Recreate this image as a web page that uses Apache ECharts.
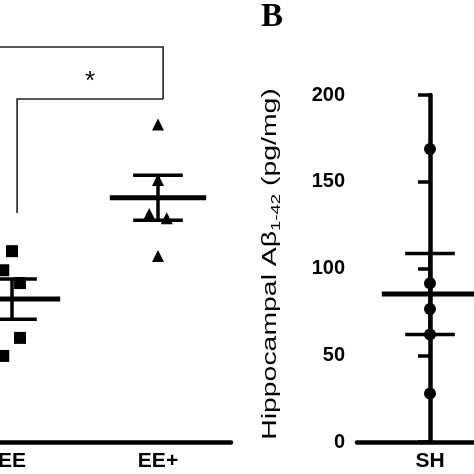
<!DOCTYPE html>
<html lang="en">
<head>
    <meta charset="UTF-8">
    <title>Hippocampal Aβ1-42</title>
    <script src="https://cdn.jsdelivr.net/npm/echarts@6/dist/echarts.min.js"></script>
    <style>
        html, body { margin: 0; padding: 0; background: #fff; }
        #chart { width: 474px; height: 474px; }
    </style>
</head>
<body>
    <div id="chart"></div>
    <script>
        // panel A (partly cut off on the left) and panel B
        const catsA = ['EE', 'EE+'];
        const catsB = ['SH'];

        // individual animals (pg/mg)
        const eeVals = [110, 99, 91.6, 60, 49.6];
        const eeJitter = [0, -0.06, 0.055, 0.055, -0.06];
        const eePlusVals = [183, 151, 131.4, 129, 107.2];
        const eePlusJitter = [0, 0, -0.06, 0.06, 0];
        const shVals = [168.9, 91.5, 76.6, 62, 28];
        const shJitter = [0, 0, 0, 0, 0];

        // mean and SEM bars
        const meansA = [82.4, 140.8];
        const semsA = [11.6, 13];
        const meansB = [85.3];
        const semsB = [23.4];

        // y axis
        const yMin = 0;
        const yMax = 200;
        const yStep = 50;

        // significance brackets in panel A: [from, to, top, left leg end, right leg end]
        const bracketFrom = [-0.965, 0.035];
        const bracketTo = [1.035, 1.035];
        const bracketTop = [227.7, 197.7];
        const bracketLeftEnd = [227.7, 132];
        const bracketRightEnd = [197.7, 197.7];
        const bracketText = ['', '*'];
        const bracketTextY = [0, 207.5];

        const FONT = '"Liberation Sans", Arial, sans-serif';

        function pts(vals, jit, idx) {
            return vals.map((v, i) => [idx + jit[i], v]);
        }

        function meanSemItem(params, api) {
            const x = api.value(0), m = api.value(1), s = api.value(2);
            const c = api.coord([x, m]);
            const hi = api.coord([x, m + s]);
            const lo = api.coord([x, m - s]);
            const halfMean = api.size([0.33, 0])[0];
            const halfCap = api.size([0.17, 0])[0];
            const thin = { stroke: '#000', lineWidth: 3.5 };
            return {
                type: 'group',
                children: [
                    { type: 'line', shape: { x1: c[0] - halfMean, y1: c[1], x2: c[0] + halfMean, y2: c[1] }, style: { stroke: '#000', lineWidth: 5 } },
                    { type: 'line', shape: { x1: lo[0], y1: lo[1], x2: hi[0], y2: hi[1] }, style: thin },
                    { type: 'line', shape: { x1: hi[0] - halfCap, y1: hi[1], x2: hi[0] + halfCap, y2: hi[1] }, style: thin },
                    { type: 'line', shape: { x1: lo[0] - halfCap, y1: lo[1], x2: lo[0] + halfCap, y2: lo[1] }, style: thin }
                ]
            };
        }

        function bracketItem(params, api) {
            const i = params.dataIndex;
            const x1 = api.value(0), x2 = api.value(1), top = api.value(2);
            const a = api.coord([x1, api.value(3)]);
            const b = api.coord([x1, top]);
            const c = api.coord([x2, top]);
            const d = api.coord([x2, api.value(4)]);
            const children = [{
                type: 'polyline',
                shape: { points: [a, b, c, d] },
                style: { stroke: '#222', lineWidth: 1.6, fill: null }
            }];
            if (bracketText[i]) {
                const t = api.coord([(x1 + x2) / 2, bracketTextY[i]]);
                children.push({
                    type: 'text', x: t[0], y: t[1],
                    style: { text: bracketText[i], fontSize: 26, fontFamily: FONT, fill: '#000', align: 'center', verticalAlign: 'middle' }
                });
            }
            return { type: 'group', children: children };
        }

        const chart = echarts.init(document.getElementById('chart'));

        const catAxis = (grid, data) => ({
            type: 'category', gridIndex: grid, data: data,
            axisLine: { show: true, lineStyle: { color: '#000', width: 4.5 } },
            axisTick: { show: false },
            axisLabel: { color: '#000', fontSize: 21, fontWeight: 'bold', fontFamily: FONT, margin: 9 }
        });

        const dot = { color: '#000', opacity: 1 };

        chart.setOption({
            animation: false,
            backgroundColor: '#fff',
            grid: [
                { left: -61, width: 292, top: 95, bottom: 32, outerBoundsMode: 'none', containLabel: false },
                { left: 357, width: 146, top: 95, bottom: 32, outerBoundsMode: 'none', containLabel: false }
            ],
            xAxis: [
                catAxis(0, catsA),
                { type: 'value', gridIndex: 0, min: -0.5, max: catsA.length - 0.5, show: false },
                catAxis(1, catsB),
                { type: 'value', gridIndex: 1, min: -0.5, max: catsB.length - 0.5, show: false }
            ],
            yAxis: [
                { type: 'value', gridIndex: 0, min: yMin, max: yMax, interval: yStep, show: false },
                {
                    type: 'value', gridIndex: 1, min: yMin, max: yMax, interval: yStep,
                    axisLine: { show: true, lineStyle: { color: '#000', width: 4.5 } },
                    axisTick: { show: true, length: 12, lineStyle: { color: '#000', width: 3.5 } },
                    axisLabel: { color: '#000', fontSize: 20, fontWeight: 'bold', fontFamily: FONT, margin: 12 },
                    splitLine: { show: false }
                }
            ],
            graphic: [
                {
                    type: 'text', x: 272, y: 17,
                    style: { text: 'B', fontSize: 33, fontWeight: 'bold', fontFamily: '"Liberation Serif", "Times New Roman", serif', fill: '#000', align: 'center', verticalAlign: 'middle' }
                },
                {
                    type: 'text', x: 270, y: 264, rotation: Math.PI / 2, scaleX: 1.42,
                    style: {
                        text: 'Hippocampal Aβ{sub|1-42} (pg/mg)',
                        fontSize: 20, fontFamily: FONT, fill: '#000', lineHeight: 26,
                        align: 'center', verticalAlign: 'middle',
                        rich: { sub: { fontSize: 13, fontFamily: FONT, fill: '#000', verticalAlign: 'bottom', lineHeight: 13 } }
                    }
                }
            ],
            series: [
                {
                    type: 'custom', xAxisIndex: 1, yAxisIndex: 0, clip: false,
                    renderItem: bracketItem,
                    data: bracketFrom.map((f, i) => [f, bracketTo[i], bracketTop[i], bracketLeftEnd[i], bracketRightEnd[i]])
                },
                {
                    type: 'scatter', xAxisIndex: 1, yAxisIndex: 0, symbol: 'rect', symbolSize: 12,
                    itemStyle: dot, data: pts(eeVals, eeJitter, 0)
                },
                {
                    type: 'scatter', xAxisIndex: 1, yAxisIndex: 0, symbol: 'triangle', symbolSize: [12, 12],
                    itemStyle: dot, data: pts(eePlusVals, eePlusJitter, 1)
                },
                {
                    type: 'custom', xAxisIndex: 1, yAxisIndex: 0, clip: false,
                    renderItem: meanSemItem,
                    data: meansA.map((m, i) => [i, m, semsA[i]])
                },
                {
                    type: 'scatter', xAxisIndex: 3, yAxisIndex: 1, symbol: 'circle', symbolSize: [12, 12],
                    itemStyle: dot, data: pts(shVals, shJitter, 0)
                },
                {
                    type: 'custom', xAxisIndex: 3, yAxisIndex: 1, clip: false,
                    renderItem: meanSemItem,
                    data: meansB.map((m, i) => [i, m, semsB[i]])
                }
            ]
        });
    </script>
</body>
</html>
